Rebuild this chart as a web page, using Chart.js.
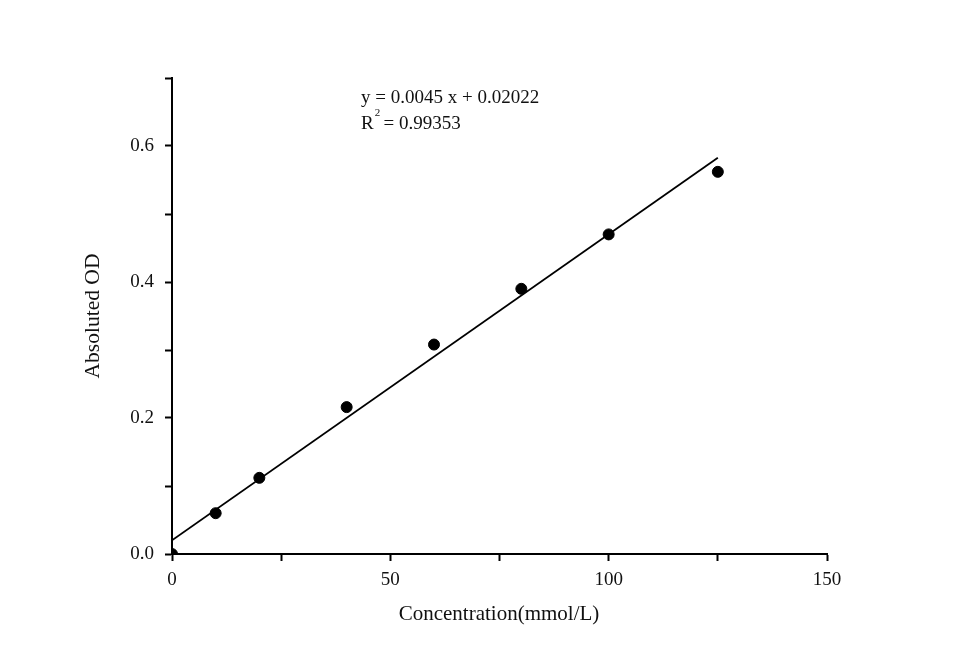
<!DOCTYPE html>
<html>
<head>
<meta charset="utf-8">
<script src="https://cdn.jsdelivr.net/npm/chart.js@4/dist/chart.umd.min.js"></script>
<style>
    html, body { margin: 0; padding: 0; background: #fff; }
    #chart { display: block; }
</style>
</head>
<body>
<canvas id="chart" width="960" height="665"></canvas>
<script>
// standard curve data
const concentration = [0, 10, 20, 40, 60, 80, 100, 125];
const absorbance = [0.0, 0.06, 0.112, 0.216, 0.308, 0.39, 0.47, 0.562];

// linear fit endpoints (y = 0.0045 x + 0.02022)
const fitX = [0, 125];
const fitY = [0.02022, 0.58272];

const xTicks = [0, 50, 100, 150];
const yTicks = [0.0, 0.2, 0.4, 0.6];

const serif = "'Liberation Serif', 'Times New Roman', serif";

const textPlugin = {
    id: "annotations",
    afterDraw(chart) {
        const ctx = chart.ctx;
        ctx.save();
        ctx.fillStyle = "#111";
        ctx.textBaseline = "alphabetic";

        // equation
        ctx.font = "19px " + serif;
        ctx.textAlign = "left";
        ctx.fillText("y = 0.0045 x + 0.02022", 361, 103);

        ctx.fillText("R", 361, 129);
        let w = ctx.measureText("R").width;
        ctx.font = "11px " + serif;
        ctx.fillText("2", 361 + w + 1, 116);
        ctx.font = "19px " + serif;
        ctx.fillText(" = 0.99353", 361 + w + 5, 129);

        // axis titles
        ctx.font = "21px " + serif;
        ctx.textAlign = "center";
        ctx.textBaseline = "middle";
        ctx.fillText("Concentration(mmol/L)", 499, 614);

        ctx.font = "21.5px " + serif;
        ctx.translate(93, 316);
        ctx.rotate(-Math.PI / 2);
        ctx.fillText("Absoluted OD", 0, 0);
        ctx.restore();
    }
};

new Chart(document.getElementById("chart"), {
    type: "scatter",
    data: {
        datasets: [
            {
                label: "Measured",
                data: concentration.map((c, i) => ({ x: c, y: absorbance[i] })),
                backgroundColor: "#000",
                borderColor: "#000",
                pointRadius: 5.5,
                pointHoverRadius: 5.5
            },
            {
                label: "Fit",
                type: "line",
                data: fitX.map((c, i) => ({ x: c, y: fitY[i] })),
                borderColor: "#000",
                borderWidth: 1.8,
                pointRadius: 0,
                fill: false
            }
        ]
    },
    options: {
        responsive: false,
        animation: false,
        layout: { padding: { left: 0, right: 133, top: 78, bottom: 0 } },
        plugins: {
            legend: { display: false },
            tooltip: { enabled: false }
        },
        scales: {
            x: {
                type: "linear",
                min: 0,
                max: 150,
                afterFit: scale => { scale.height = 111; },
                afterBuildTicks: scale => {
                    scale.ticks = [0, 25, 50, 75, 100, 125, 150].map(v => ({ value: v }));
                },
                border: { display: true, color: "#000", width: 2 },
                grid: {
                    drawOnChartArea: false,
                    drawTicks: true,
                    tickLength: 7,
                    tickColor: "#000",
                    tickWidth: 2
                },
                ticks: {
                    autoSkip: false,
                    maxRotation: 0,
                    padding: 8,
                    color: "#111",
                    font: { family: serif, size: 19 },
                    callback: v => xTicks.includes(v) ? String(v) : ""
                }
            },
            y: {
                type: "linear",
                min: 0,
                max: 0.7,
                afterFit: scale => { scale.width = 172; },
                afterBuildTicks: scale => {
                    scale.ticks = [0, 0.1, 0.2, 0.3, 0.4, 0.5, 0.6, 0.7].map(v => ({ value: v }));
                },
                border: { display: true, color: "#000", width: 2 },
                grid: {
                    drawOnChartArea: false,
                    drawTicks: true,
                    tickLength: 7,
                    tickColor: "#000",
                    tickWidth: 2
                },
                ticks: {
                    autoSkip: false,
                    padding: 11,
                    color: "#111",
                    font: { family: serif, size: 19 },
                    callback: v => yTicks.some(t => Math.abs(t - v) < 1e-9) ? v.toFixed(1) : ""
                }
            }
        }
    },
    plugins: [textPlugin]
});
</script>
</body>
</html>
